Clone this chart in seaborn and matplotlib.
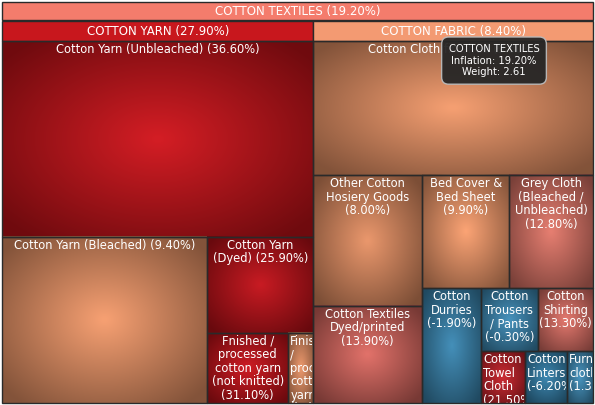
import textwrap
import numpy as np
import matplotlib
matplotlib.use("Agg")
import matplotlib.pyplot as plt
import matplotlib.colors as mcolors
from matplotlib.patches import Rectangle
from matplotlib.transforms import Bbox, TransformedBbox
import seaborn as sns

sns.set_theme(style="white")
plt.rcParams['font.family'] = ['DejaVu Sans']

# data: (label, inflation %, weight) per group
root_label = "COTTON TEXTILES"
root_infl = 19.20
group_names = ["COTTON YARN", "COTTON FABRIC"]
group_infl = [27.90, 8.40]
yarn_labels = ["Cotton Yarn (Unbleached)", "Cotton Yarn (Bleached)", "Cotton Yarn (Dyed)",
               "Fnished / processed cotton yarn (not knitted)",
               "Finished / processed cotton yarn (knitted)"]
yarn_infl = [36.60, 9.40, 25.90, 31.10, 8.20]
yarn_weight = [60450, 33864, 10176, 5670, 1750]
fabric_labels = ["Cotton Cloth finished", "Other Cotton Hosiery Goods", "Cotton Textiles Dyed/printed",
                 "Bed Cover & Bed Sheet", "Grey Cloth (Bleached / Unbleached)", "Cotton Durries",
                 "Cotton Trousers / Pants", "Cotton Shirting", "Cotton Towel Cloth",
                 "Cotton Linters", "Furnishing cloth"]
fabric_infl = [9.30, 8.00, 13.90, 9.90, 12.80, -1.90, -0.30, 13.30, 21.50, -6.20, 1.30]
fabric_weight = [37252, 14040, 10476, 9831, 9379, 6726, 3528, 3465, 2250, 2150, 1326]

# colour scale for inflation
c_vals = [-7, 2.5, 6, 10, 13, 18, 24, 40]
c_cols = ["#2d6f94", "#3a7ea4", "#b87350", "#d98a60", "#c4665c", "#b5343a", "#a80f16", "#b81218"]
c_rgb = np.array([mcolors.to_rgb(c) for c in c_cols])


def infl_color(v):
    return np.array([np.interp(v, c_vals, c_rgb[:, i]) for i in range(3)])


def worst(row, side):
    s = sum(row)
    return max(max(side * side * r / (s * s), s * s / (side * side * r)) for r in row)


def squarify(weights, x, y, w, h):
    total = sum(weights)
    areas = [a * w * h / total for a in weights]
    rects = []
    i = 0
    while i < len(areas):
        side = min(w, h)
        row = [areas[i]]
        j = i + 1
        while j < len(areas) and worst(row + [areas[j]], side) <= worst(row, side):
            row.append(areas[j])
            j += 1
        s = sum(row)
        if w >= h:  # column at left
            cw = s / h
            yy = y
            for a in row:
                rects.append((x, yy, cw, a / cw))
                yy += a / cw
            x += cw
            w -= cw
        else:  # row at top
            rh = s / w
            xx = x
            for a in row:
                rects.append((xx, y, a / rh, rh))
                xx += a / rh
            y += rh
            h -= rh
        i = j
    return rects


W, H = 595, 405
fig = plt.figure(figsize=(W / 100, H / 100), dpi=100)
ax = fig.add_axes([0, 0, 1, 1])
ax.set_xlim(0, W)
ax.set_ylim(H, 0)
ax.axis("off")
renderer = fig.canvas.get_renderer()

gy, gx = np.mgrid[-1:1:60j, -1:1:60j]
rad = np.clip(np.sqrt(gx ** 2 + gy ** 2) / 1.3, 0, 1)


def draw_tile(r, val, label, fs=8.3):
    x, y, w, h = r
    base = infl_color(val)
    centre = np.clip(base * 1.12 + 0.04, 0, 1)
    edge = base * 0.62
    img = centre[None, None, :] * (1 - rad[..., None]) + edge[None, None, :] * rad[..., None]
    ax.imshow(img, extent=(x, x + w, y + h, y), aspect="auto", interpolation="bilinear", zorder=1)
    rect = Rectangle((x, y), w, h, fill=False, edgecolor="#2a2a2a", lw=1.0, zorder=3)
    ax.add_patch(rect)
    nchar = max(int(w / 6.2), 1)
    lines = textwrap.wrap(label, nchar, break_long_words=False, break_on_hyphens=False)
    t = ax.text(x + w / 2, y + 2, "\n".join(lines), ha="center", va="top", color="white",
                fontsize=fs, linespacing=1.05, zorder=4)
    if t.get_window_extent(renderer).width > w - 2:
        t.set_horizontalalignment("left")
        t.set_x(x + 2)
    t.set_clip_box(TransformedBbox(Bbox.from_extents(x + 1, y, x + w - 1, y + h), ax.transData))
    t.set_clip_on(True)


# root header
x0, y0, x1, y1 = 2, 2, 593, 403
ax.add_patch(Rectangle((x0, y0), x1 - x0, 18, facecolor="#f47c6c",
                       edgecolor="#2a2a2a", lw=1, zorder=2))
ax.text((x0 + x1) / 2, y0 + 9.5, f"{root_label} ({root_infl:.2f}%)", ha="center", va="center",
        color="white", fontsize=8.5, zorder=4)

groups = [(yarn_labels, yarn_infl, yarn_weight), (fabric_labels, fabric_infl, fabric_weight)]
hdr_cols = ["#c8171d", "#f39a72"]
grects = squarify([sum(g[2]) for g in groups], x0, y0 + 19, x1 - x0, y1 - y0 - 19)
for (gname, ginf, hc, gr, g) in zip(group_names, group_infl, hdr_cols, grects, groups):
    gx0, gy0, gw, gh = gr
    ax.add_patch(Rectangle((gx0, gy0), gw, 20, facecolor=hc, edgecolor="#2a2a2a", lw=1, zorder=2))
    ax.text(gx0 + gw / 2, gy0 + 10.5, f"{gname} ({ginf:.2f}%)", ha="center", va="center",
            color="white", fontsize=8.5, zorder=4)
    labels, infl, wts = g
    for lab, v, r in zip(labels, infl, squarify(wts, gx0, gy0 + 20, gw, gh - 20)):
        draw_tile(r, v, f"{lab} ({v:.2f}%)")

# tooltip
ax.text(494, 44, f"{root_label}\nInflation: {root_infl:.2f}%\nWeight: 2.61", ha="center", va="top",
        color="white", fontsize=7.2, linespacing=1.2, zorder=6, multialignment="center",
        bbox=dict(boxstyle="round,pad=0.7", facecolor="#262626", edgecolor="#bbbbbb", alpha=0.95))

fig.savefig("out.png", dpi=100)
